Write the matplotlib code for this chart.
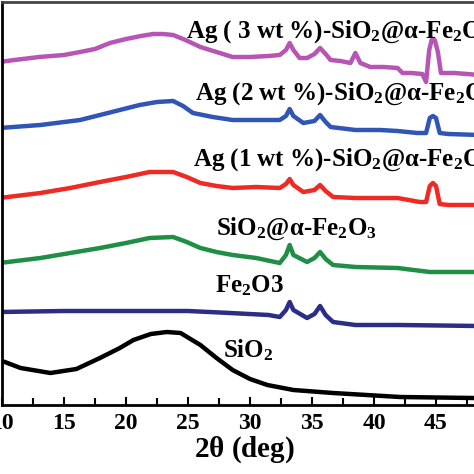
import matplotlib
matplotlib.use("Agg")
import matplotlib.pyplot as plt
from matplotlib.ticker import MultipleLocator

plt.rcParams['font.family'] = ['Liberation Serif', 'DejaVu Serif']
plt.rcParams['font.weight'] = 'bold'
plt.rcParams['mathtext.fontset'] = 'custom'
plt.rcParams['mathtext.rm'] = 'Liberation Serif:bold'
plt.rcParams['mathtext.bf'] = 'Liberation Serif:bold'
plt.rcParams['mathtext.it'] = 'Liberation Serif:bold'
plt.rcParams['mathtext.default'] = 'rm'

# stacked XRD patterns (2theta in deg, intensity in a.u. incl. vertical offset)
ag3_x = [9.8, 11, 13, 15, 16.3, 17.5, 18.7, 20, 21.2, 22.2, 23, 23.8, 24.8, 26, 27.3, 28.6, 30, 31.5,
         32.4, 32.9, 33.2, 33.5, 34.0, 34.6, 35.2, 35.65, 36.1, 36.5, 37.3, 38.1, 38.5, 38.9, 39.7,
         40.8, 41.9, 42.3, 43.0, 43.9, 44.2, 44.45, 44.65, 44.9, 45.15, 45.4, 46.5, 48.5]
ag3_y = [343, 345, 348, 350, 353, 356, 362, 366, 369, 371, 371, 370, 365, 358, 353, 348, 348, 349,
         350, 355, 362, 355, 347, 347, 351, 357, 351, 345, 344, 342, 352, 342, 338,
         338, 337, 332, 332, 331, 323, 355, 365, 365, 353, 332, 332, 330]

ag2_x = [9.8, 13.1, 16.3, 17.9, 19.5, 21.1, 22.5, 23.8, 24.6, 25.4, 27.0, 28.6, 30.5, 32.4, 32.9, 33.2,
         33.5, 34.3, 35.2, 35.65, 36.1, 36.5, 38.5, 40.5, 41.9, 43.5, 44.2, 44.5, 44.75, 45.0, 45.3,
         46, 48.5]
ag2_y = [277, 280, 285, 290, 295, 300, 303, 304, 299, 292, 288, 285, 285, 285, 289, 296,
         289, 282, 284, 290, 283, 278, 275, 275, 274, 272, 272, 287, 289, 287, 272,
         271, 270]

ag1_x = [9.8, 13.1, 15.5, 17.9, 20.0, 21.9, 23.8, 24.9, 26.0, 27.3, 28.6, 30.5, 32.4, 32.9, 33.2,
         33.5, 34.3, 35.2, 35.65, 36.1, 36.7, 38.5, 41.9, 43.7, 44.2, 44.5, 44.75, 45.0, 45.3, 46, 48.5]
ag1_y = [207, 212, 217, 223, 228, 233, 233, 228, 222, 219, 217, 218, 217, 221, 226,
         220, 213, 215, 220, 214, 208, 207, 207, 203, 203, 219, 222, 219, 201, 200, 200]

sife_x = [9.8, 13.1, 15.5, 17.9, 20.0, 21.9, 23.8, 24.9, 26.0, 27.3, 28.6, 30.5, 32.4, 32.9, 33.2,
          33.5, 34.6, 35.2, 35.65, 36.1, 36.7, 38.5, 41.9, 44.5, 48.5]
sife_y = [142, 147, 152, 157, 162, 167, 168, 163, 157, 153, 150, 147, 142, 150, 160,
          150, 143, 147, 153, 146, 140, 138, 137, 133, 133]

fe_x = [9.8, 15, 20, 25, 28.4, 31.5, 32.4, 32.9, 33.2, 33.5, 34.6, 35.2, 35.65, 36.1, 36.7, 38.5, 42, 48.5]
fe_y = [93, 94, 94, 94, 92, 90, 88, 95, 103, 95, 87, 91, 99, 90, 83, 80, 80, 79]

si_x = [9.8, 11.5, 13.9, 16.0, 17.9, 19.5, 20.6, 22.0, 23.3, 24.4, 26.0, 27.3, 28.6, 30.0, 31.4,
        33.5, 36.7, 42.1, 48.0]
si_y = [45, 37, 32, 36, 47, 57, 65, 71, 73, 72, 60, 47, 35, 26, 20, 15, 12, 8, 7]

series = [
    (ag3_x, ag3_y, '#b655b6', r'Ag ( 3 wt %)-SiO$_2$@$\alpha$-Fe$_2$O$_3$', 24.84, 367),
    (ag2_x, ag2_y, '#2f55b5', r'Ag (2 wt %)-SiO$_2$@$\alpha$-Fe$_2$O$_3$', 25.56, 305),
    (ag1_x, ag1_y, '#ee2a24', r'Ag (1 wt %)-SiO$_2$@$\alpha$-Fe$_2$O$_3$', 25.4, 239),
    (sife_x, sife_y, '#1f8f45', r'SiO$_2$@$\alpha$-Fe$_2$O$_3$', 27.26, 170),
    (fe_x, fe_y, '#2b2d86', r'Fe$_2$O3', 27.18, 113),
    (si_x, si_y, '#000000', r'SiO$_2$', 27.8, 48),
]

fig = plt.figure(figsize=(4.74, 4.74), dpi=100)
ax = fig.add_axes([2/474, 69/474, 472/474, 403/474])

for x, y, c, lab, tx, ty in series:
    ax.plot(x, y, color=c, lw=3.2, solid_joinstyle='round')
    ax.text(tx, ty, lab, fontsize=18, fontweight='bold', va='baseline', ha='left')

ax.set_xlim(10, 10 + 472/12.4)
ax.set_ylim(0, 403)
ax.xaxis.set_major_locator(MultipleLocator(5))
ax.xaxis.set_minor_locator(MultipleLocator(2.5))
ax.tick_params(axis='x', which='both', direction='in', width=1.5, labelsize=17, pad=6)
ax.tick_params(axis='x', which='major', length=6)
ax.tick_params(axis='x', which='minor', length=5)
ax.set_yticks([])
for lab in ax.get_xticklabels():
    lab.set_fontweight('bold')
for s in ax.spines.values():
    s.set_linewidth(2)
ax.spines['right'].set_visible(False)
ax.spines['top'].set_color('#444444')

fig.text(244/474, (474-457)/474, r'2$\theta$ (deg)', fontsize=21, fontweight='bold',
         ha='center', va='baseline')

fig.savefig('out.png', dpi=100)
